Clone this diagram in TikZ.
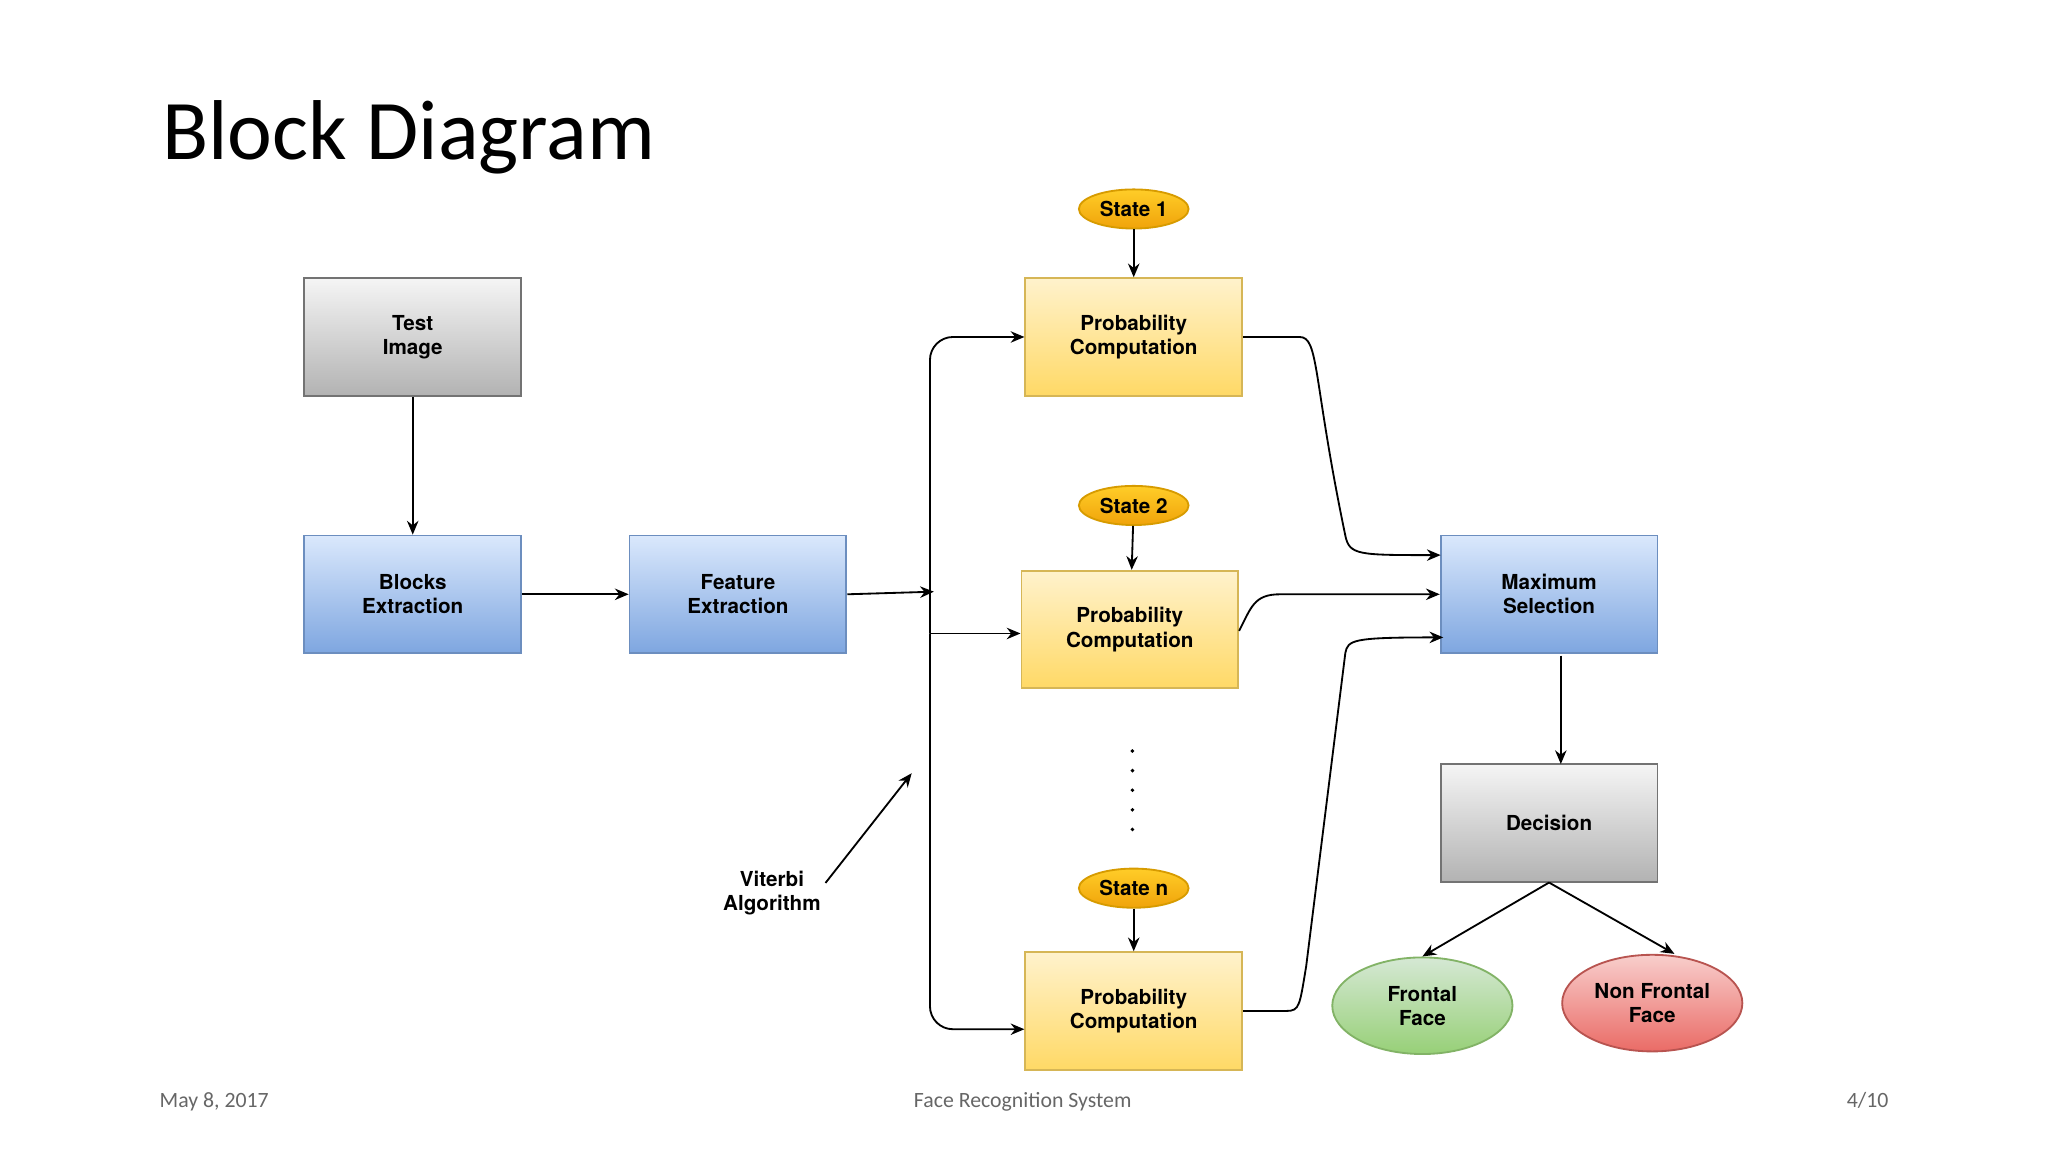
\documentclass[tikz,border=0pt]{standalone}
\usepackage{fontspec}
\setmainfont{TeX Gyre Heros}
\newfontfamily\slidefont{Carlito}
\usetikzlibrary{shapes.geometric,arrows.meta}
\begin{document}
\begin{tikzpicture}[x=0.02cm,y=-0.02cm,
  box/.style={rectangle,minimum width=3.32cm,minimum height=1.8cm,align=center,font=\fontsize{9}{10.5}\selectfont\bfseries,line width=0.8pt},
  gray/.style={box,draw=black!55,top color=black!4,bottom color=black!30},
  blue/.style={box,draw=blue!30!black!40!cyan!50,draw={rgb,255:red,108;green,142;blue,191},top color={rgb,255:red,218;green,232;blue,252},bottom color={rgb,255:red,126;green,166;blue,224}},
  yel/.style={box,draw={rgb,255:red,214;green,182;blue,86},top color={rgb,255:red,255;green,242;blue,204},bottom color={rgb,255:red,255;green,217;blue,102}},
  st/.style={ellipse,minimum width=1.68cm,minimum height=0.6cm,inner sep=0pt,font=\fontsize{9}{10.5}\selectfont\bfseries,draw={rgb,255:red,215;green,155;blue,0},top color={rgb,255:red,255;green,205;blue,40},bottom color={rgb,255:red,240;green,163;blue,10},line width=0.8pt},
  ell/.style={ellipse,minimum width=2.76cm,minimum height=1.48cm,inner sep=0pt,align=center,font=\fontsize{9}{10.5}\selectfont\bfseries,line width=0.8pt},
  arr/.style={-{Stealth[length=6pt,width=5pt]},line width=0.8pt},
  ln/.style={line width=0.8pt}]
\useasboundingbox (0,0) rectangle (1568,882);
\node[anchor=base west,font=\slidefont\fontsize{37}{40}\selectfont] (title) at (118,122) {Block Diagram};
\node[anchor=base west,font=\slidefont\fontsize{9.5}{11}\selectfont,text=black!60] (f1) at (116,848) {May 8, 2017};
\node[anchor=base,font=\slidefont\fontsize{9.5}{11}\selectfont,text=black!60] (f2) at (783,848) {Face Recognition System};
\node[anchor=base east,font=\slidefont\fontsize{9.5}{11}\selectfont,text=black!60] (f3) at (1452,848) {4/10};

\node[gray] (test) at (316,258) {Test\\Image};
\node[blue] (blocks) at (316,455) {Blocks\\Extraction};
\node[blue] (feat) at (565,455) {Feature\\Extraction};
\node[yel] (p1) at (868,258) {Probability\\Computation};
\node[yel] (p2) at (865,482) {Probability\\Computation};
\node[yel] (p3) at (868,774) {Probability\\Computation};
\node[st] (s1) at (868,160) {State 1};
\node[st] (s2) at (868,387) {State 2};
\node[st] (s3) at (868,680) {State n};
\node[blue] (max) at (1186,455) {Maximum\\Selection};
\node[gray] (dec) at (1186,630) {Decision};
\node[ell,draw={rgb,255:red,130;green,179;blue,102},top color={rgb,255:red,213;green,232;blue,212},bottom color={rgb,255:red,151;green,208;blue,119}] (ff) at (1089,770) {Frontal\\Face};
\node[ell,draw={rgb,255:red,184;green,84;blue,80},top color={rgb,255:red,248;green,206;blue,204},bottom color={rgb,255:red,234;green,107;blue,102}] (nf) at (1265,768) {Non Frontal\\Face};
\node[align=center,font=\fontsize{9}{10.5}\selectfont\bfseries] (vit) at (591,684) {Viterbi\\Algorithm};
\coordinate (bus) at (715,453);
\coordinate (va) at (698,592);

\draw[arr] (test) -- (blocks);
\draw[arr] (blocks) -- (feat);
\draw[arr] (feat.east) -- (bus);
\draw[arr] (s1) -- (p1);
\draw[arr] (s2) -- (p2);
\draw[arr] (s3) -- (p3);
\draw[arr,rounded corners=10pt] (712,485) |- (p1.west);
\draw[arr,rounded corners=10pt] (712,485) |- (p3.west |- 0,788);
\draw[arr] (712,485) -- (p2.west |- 0,485);
\draw[arr] (632,676) -- (va);
\draw[arr] (p1.east) -- (995,258) to[out=0,in=180,looseness=0] (995,258) .. controls (1010,258) and (1005,290) .. (1030,410) .. controls (1033,425) and (1040,425) .. (1103,425);
\draw[arr] (p2.east |- 0,483) .. controls (958,465) and (960,455) .. (980,455) -- (max.west |- 0,455);
\draw[arr] (p3.east) -- (985,774) .. controls (995,774) and (995,770) .. (1000,740) -- (1030,500) .. controls (1032,490) and (1035,488) .. (1105,488);
\draw[arr] (1195,502) -- (1195,585);
\draw[arr] (dec.south) -- (ff.north);
\draw[arr] (dec.south) -- (nf.north -| 1282,0);
\foreach \y in {575,590,605,620,635} \fill (867,\y) circle (1.5);
\end{tikzpicture}
\end{document}
